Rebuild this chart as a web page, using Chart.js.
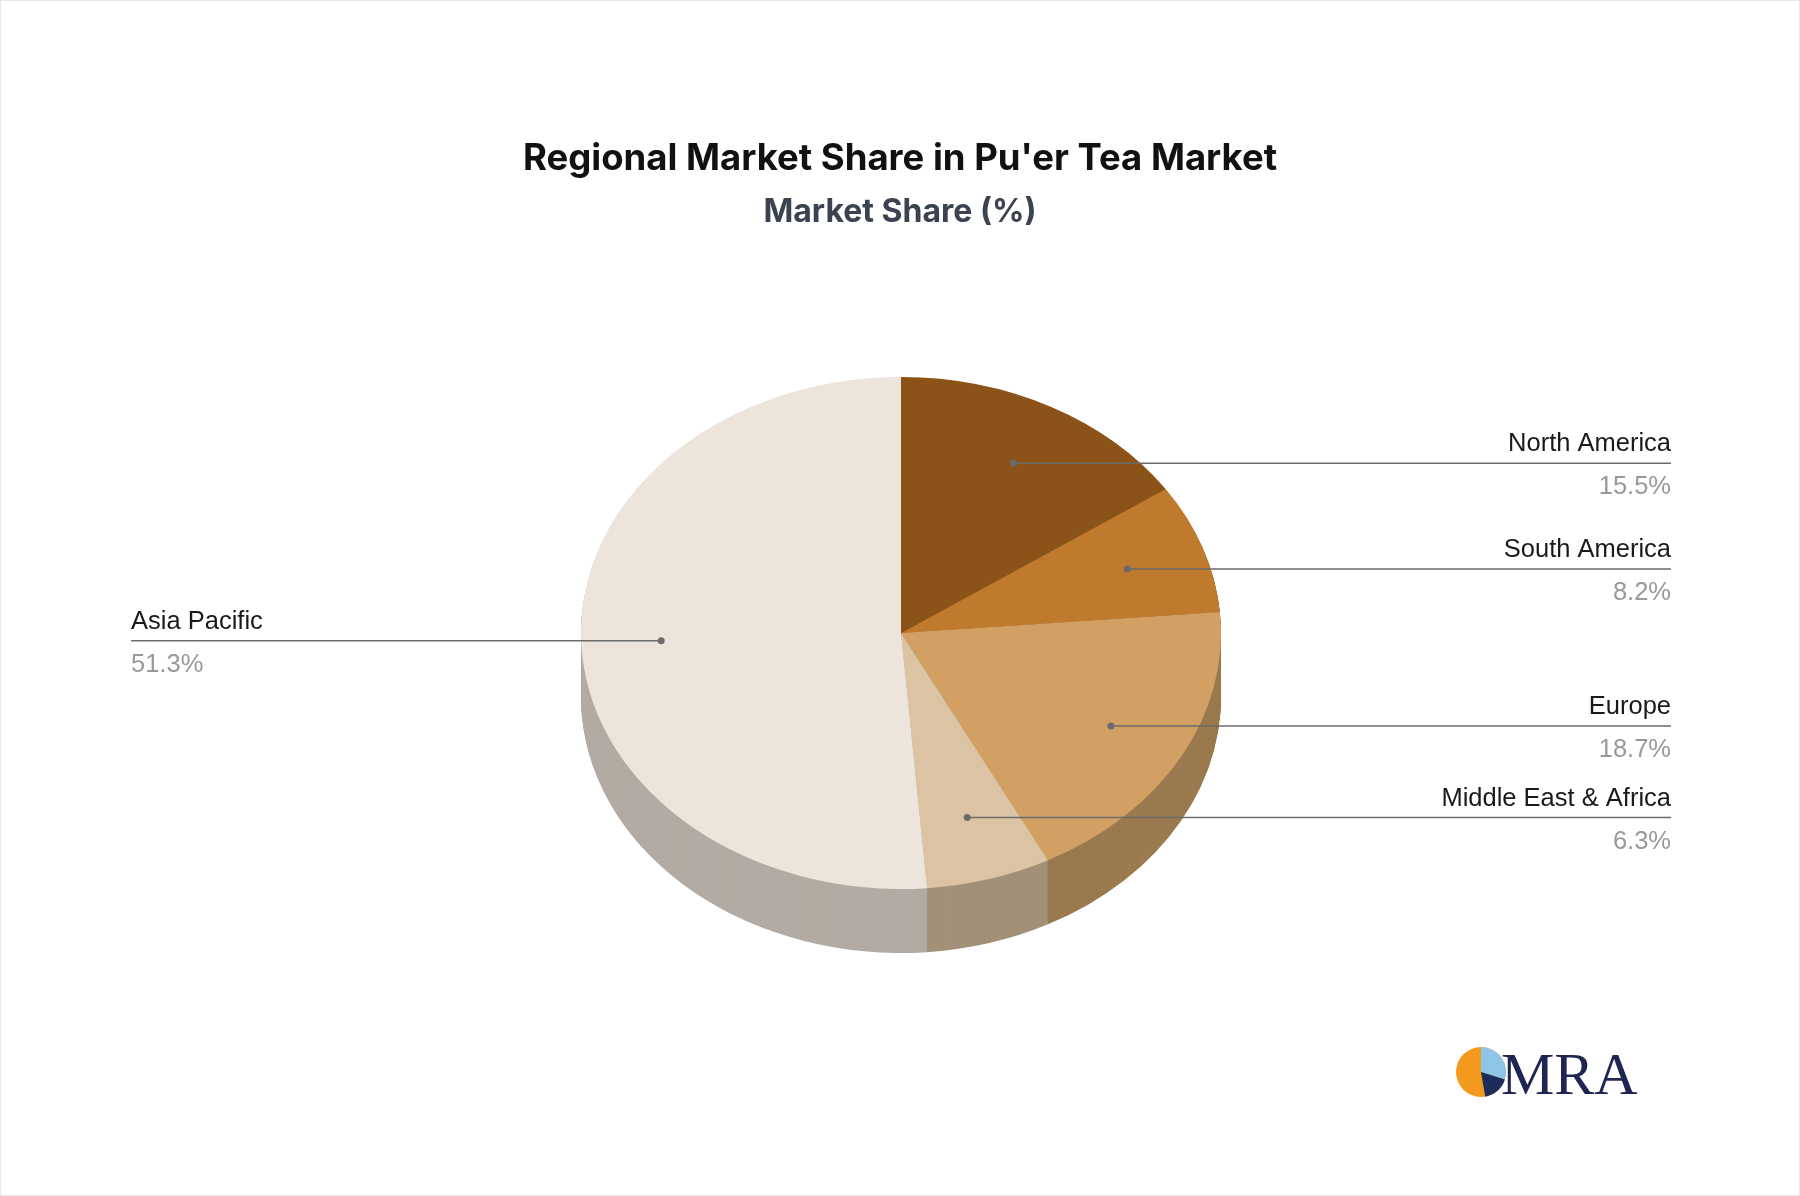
<!DOCTYPE html>
<html>
<head>
<meta charset="utf-8">
<script src="https://cdn.jsdelivr.net/npm/chart.js@4/dist/chart.umd.min.js"></script>
<style>
  html, body { margin: 0; padding: 0; background: #fff; }
  #wrap { width: 1800px; height: 1196px; position: relative; box-sizing: border-box; border: 1px solid #e6e6e6; }
</style>
</head>
<body>
<div id="wrap"><canvas id="pie" width="1798" height="1194"></canvas></div>
<script>
// chart data
const regions = ['North America', 'South America', 'Europe', 'Middle East & Africa', 'Asia Pacific'];
const shares = [15.5, 8.2, 18.7, 6.3, 51.3];
const topColors = ['#8b5317', '#bf7a2e', '#d2a063', '#dcc3a3', '#ede4db'];
const sideColors = ['#6b4012', '#8f5c22', '#9a7a4e', '#a39078', '#b3aba3'];

const SQUASH = 0.8;   // vertical flattening of the pie
const DEPTH = 64;     // thickness of the 3D rim

// fake 3D: flatten the pie and draw a rim underneath
const pie3d = {
  id: 'pie3d',
  beforeDatasetsDraw(chart) {
    const ctx = chart.ctx;
    const arcs = chart.getDatasetMeta(0).data;
    const cx = arcs[0].x, cy = arcs[0].y;
    ctx.save();
    ctx.translate(cx, cy);
    ctx.scale(1, SQUASH);
    ctx.translate(-cx, -cy);
    for (let d = DEPTH; d > 0; d--) {
      arcs.forEach((a, i) => {
        ctx.beginPath();
        ctx.moveTo(a.x, a.y + d / SQUASH);
        ctx.arc(a.x, a.y + d / SQUASH, a.outerRadius, a.startAngle, a.endAngle);
        ctx.closePath();
        ctx.fillStyle = sideColors[i];
        ctx.fill();
      });
    }
  },
  afterDatasetsDraw(chart) {
    chart.ctx.restore();
  },
  afterDraw(chart) {
    const ctx = chart.ctx;
    const arcs = chart.getDatasetMeta(0).data;

    // titles
    ctx.save();
    ctx.textAlign = 'center';
    ctx.fillStyle = '#111';
    ctx.font = 'bold 36.5px Inter, "Liberation Sans", sans-serif';
    ctx.fillText("Regional Market Share in Pu'er Tea Market", 899, 169);
    ctx.fillStyle = '#3b4350';
    ctx.font = 'bold 32px Inter, "Liberation Sans", sans-serif';
    ctx.fillText('Market Share (%)', 899, 221);

    // leader lines and labels
    arcs.forEach((a, i) => {
      const mid = (a.startAngle + a.endAngle) / 2;
      const r = a.outerRadius * 0.75;
      const px = a.x + Math.cos(mid) * r;
      const py = a.y + Math.sin(mid) * r * SQUASH;
      const right = Math.cos(mid) >= 0;
      const lx = right ? 1670 : 130;
      ctx.strokeStyle = '#6b6b6b';
      ctx.lineWidth = 1.5;
      ctx.beginPath();
      ctx.moveTo(px, py);
      ctx.lineTo(lx, py);
      ctx.stroke();
      ctx.fillStyle = '#6b6b6b';
      ctx.beginPath();
      ctx.arc(px, py, 3.5, 0, Math.PI * 2);
      ctx.fill();
      ctx.textAlign = right ? 'right' : 'left';
      ctx.font = '25.5px "Liberation Sans", Arial, sans-serif';
      ctx.fillStyle = '#1a1a1a';
      ctx.fillText(regions[i], lx, py - 12);
      ctx.fillStyle = '#999';
      ctx.fillText(shares[i].toFixed(1) + '%', lx, py + 31);
    });

    // logo
    const lx = 1480, ly = 1071;
    ctx.fillStyle = '#f39a1e';
    ctx.beginPath(); ctx.arc(lx, ly, 25, 0, Math.PI * 2); ctx.fill();
    ctx.fillStyle = '#8fc6e8';
    ctx.beginPath(); ctx.moveTo(lx, ly); ctx.arc(lx, ly, 25, -Math.PI / 2, 0.3); ctx.closePath(); ctx.fill();
    ctx.fillStyle = '#1d2d5a';
    ctx.beginPath(); ctx.moveTo(lx, ly); ctx.arc(lx, ly, 25, 0.3, 1.4); ctx.closePath(); ctx.fill();
    ctx.fillStyle = '#1d2550';
    ctx.textAlign = 'left';
    ctx.font = '60px "Liberation Serif", "DejaVu Serif", serif';
    ctx.fillText('MRA', 1500, 1093);
    ctx.restore();
  }
};

const ctx = document.getElementById('pie').getContext('2d');
new Chart(ctx, {
  type: 'pie',
  data: {
    labels: regions,
    datasets: [{
      data: shares,
      backgroundColor: topColors,
      borderWidth: 0
    }]
  },
  options: {
    responsive: false,
    animation: false,
    layout: { padding: { left: 580, right: 578, top: 312, bottom: 242 } },
    plugins: {
      legend: { display: false },
      title: { display: false },
      tooltip: { enabled: false }
    }
  },
  plugins: [pie3d]
});
</script>
</body>
</html>
